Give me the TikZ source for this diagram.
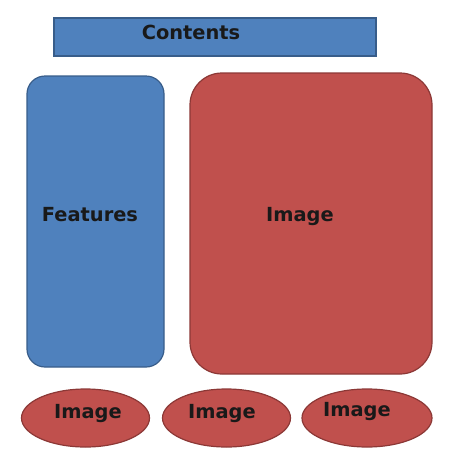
\documentclass[tikz,border=0pt]{standalone}
\usepackage{fontspec}
\setmainfont{DejaVu Sans}
\usetikzlibrary{shapes.geometric,calc}
\definecolor{bfill}{HTML}{4F81BD}
\definecolor{bline}{HTML}{385D8A}
\definecolor{rfill}{HTML}{C0504D}
\definecolor{rline}{HTML}{8C3836}
\tikzset{
  bluebox/.style={draw=bline,fill=bfill,line width=1.2pt,inner sep=0pt},
  redbox/.style={draw=rline,fill=rfill,line width=1.2pt,inner sep=0pt},
  redoval/.style={redbox,ellipse,minimum width=128pt,minimum height=58pt},
  lbl/.style={font=\bfseries\fontsize{19.4}{22}\selectfont,text=black!90,inner sep=0pt}
}
\begin{document}
\begin{tikzpicture}[x=1pt,y=-1pt]
\useasboundingbox (0,0) rectangle (453,453);
\node[bluebox,rectangle,minimum width=322pt,minimum height=38pt] (cont) at (215,37) {};
\node[bluebox,rectangle,rounded corners=18pt,minimum width=137pt,minimum height=291pt] (feat) at (95.5,221.5) {};
\node[redbox,rectangle,rounded corners=32pt,minimum width=242pt,minimum height=301pt] (big) at (311,223.5) {};
\node[redoval] (e1) at (85.5,418) {};
\node[redoval] (e2) at (226.5,418) {};
\node[redoval,minimum width=130pt] (e3) at (367,418) {};
\node[lbl] (tcont) at (191,32) {Contents};
\node[lbl] (tfeat) at (90,215) {Features};
\node[lbl] (tbig) at (300,217) {Image};
\node[lbl] (t1) at (88,414) {Image};
\node[lbl] (t2) at (222,414) {Image};
\node[lbl] (t3) at (357,412) {Image};
\end{tikzpicture}
\end{document}
